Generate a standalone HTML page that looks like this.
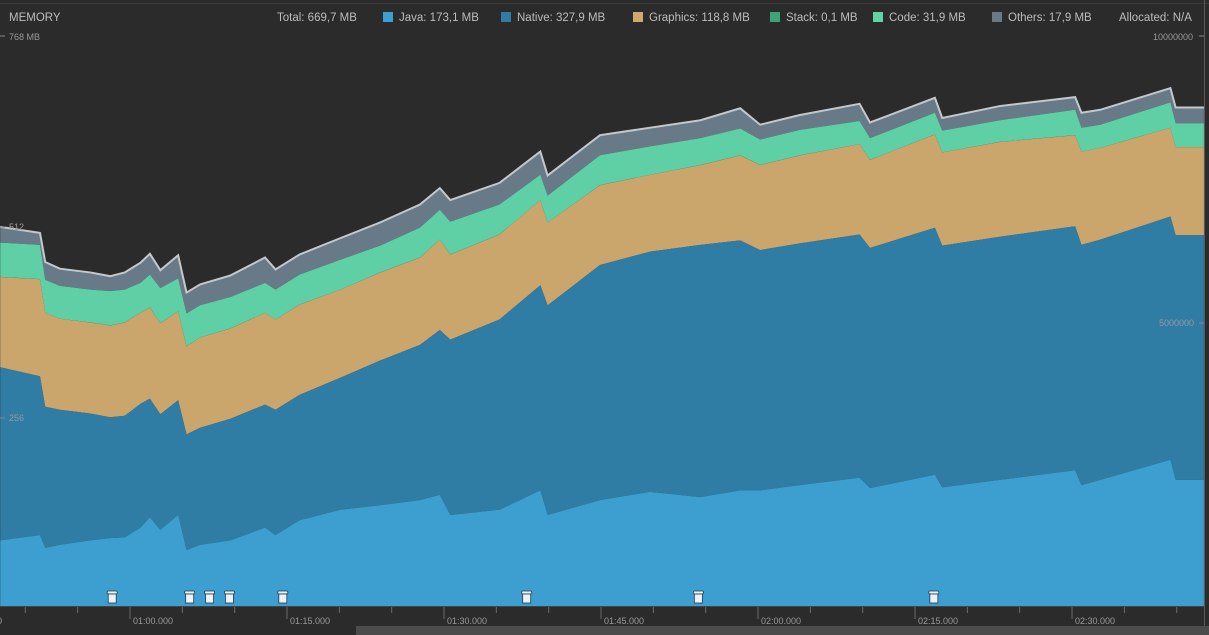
<!DOCTYPE html>
<html><head><meta charset="utf-8"><style>
html,body{margin:0;padding:0;background:#2b2b2b;}
body{width:1209px;height:635px;overflow:hidden;position:relative;font-family:"Liberation Sans",sans-serif;}
.t{position:absolute;color:#bcbcbc;font-size:11.5px;white-space:nowrap;}
.sw{display:inline-block;width:10px;height:10px;margin-right:6px;vertical-align:-1px;}
.ax{position:absolute;color:#9a9a9a;font-size:9px;}
</style></head><body>
<div style="position:absolute;left:0;top:3px;width:1209px;height:1px;background:#3c3c3c"></div>
<div class="t" style="left:9px;top:12px">MEMORY</div>
<div class="t" style="left:277px;top:12px">Total: 669,7 MB</div>
<div class="t" style="left:383px;top:12px"><span class="sw" style="background:#3d9fd0"></span>Java: 173,1 MB</div>
<div class="t" style="left:501px;top:12px"><span class="sw" style="background:#2f7ca5"></span>Native: 327,9 MB</div>
<div class="t" style="left:633px;top:12px"><span class="sw" style="background:#d0a86b"></span>Graphics: 118,8 MB</div>
<div class="t" style="left:770px;top:12px"><span class="sw" style="background:#3ea37a"></span>Stack: 0,1 MB</div>
<div class="t" style="left:873px;top:12px"><span class="sw" style="background:#5fd4a6"></span>Code: 31,9 MB</div>
<div class="t" style="left:992px;top:12px"><span class="sw" style="background:#687987"></span>Others: 17,9 MB</div>
<div class="t" style="left:1119px;top:12px">Allocated: N/A</div>

<svg id="chart" width="1209" height="635" style="position:absolute;left:0;top:0"></svg>

<div class="ax" style="left:9px;top:32px">768 MB</div>
<div class="ax" style="left:9px;top:222px">512</div>
<div class="ax" style="left:9px;top:413px">256</div>
<div class="ax" style="left:1153px;top:32px">10000000</div>
<div class="ax" style="left:1159px;top:318px">5000000</div>
<div style="position:absolute;left:356px;top:626px;width:853px;height:9px;background:#4b4b4b"></div>

<script>
const times=[47.6,51.4,51.9,53.3,56.2,58.1,59.5,61.0,61.9,62.9,64.6,65.4,66.7,69.6,72.9,73.9,76.2,80.1,83.9,87.7,89.6,90.6,95.3,99.2,99.9,104.9,109.7,114.5,118.3,120.2,124.0,129.7,130.7,136.9,137.6,143.1,150.3,150.9,152.7,159.4,159.9,162.6];
const java=[92,99,82,86,92,95,96,109,123,106,126,79,86,92,109,99,119,133,139,146,153,126,133,159,126,146,157,150,159,159,166,176,162,180,163,173,186,166,173,200,173,173];
const nativeMem=[232,213,189,181,170,162,163,166,159,155,154,155,157,163,165,168,168,177,194,208,221,235,255,275,281,315,322,338,335,322,324,326,322,331,324,326,327,322,322,326,328,328];
const graphics=[121,130,126,122,122,123,125,122,122,122,119,118,121,121,123,121,121,118,118,117,121,114,114,114,111,107,103,107,114,114,118,121,118,125,125,127,122,125,123,119,118,118];
const stack=[0.1,0.1,0.1,0.1,0.1,0.1,0.1,0.1,0.1,0.1,0.1,0.1,0.1,0.1,0.1,0.1,0.1,0.1,0.1,0.1,0.1,0.1,0.1,0.1,0.1,0.1,0.1,0.1,0.1,0.1,0.1,0.1,0.1,0.1,0.1,0.1,0.1,0.1,0.1,0.1,0.1,0.1];
const code=[46,46,44,44,44,46,44,40,44,47,44,44,43,42,40,40,40,40,36,40,40,44,40,34,36,40,38,36,36,34,34,31,29,29,29,29,34,32,31,34,32,32];
const others=[21,16,24,23,23,20,23,27,28,24,31,28,28,29,34,27,27,29,31,31,29,29,29,31,27,27,25,24,27,20,20,23,21,20,17,19,17,20,20,19,21,21];
const gcTimes=[58.3,65.7,67.6,69.5,74.6,97.9,114.3,136.8];
const tickLabels=["01:00.000","01:15.000","01:30.000","01:45.000","02:00.000","02:15.000","02:30.000"];
const tickTimes=[60,75,90,105,120,135,150];

const NS="http://www.w3.org/2000/svg";
const svg=document.getElementById('chart');
const X=t=>130+(t-60)*10.467;
const Y=mb=>609-mb*191/256;
function el(tag,attrs){const e=document.createElementNS(NS,tag);for(const k in attrs)e.setAttribute(k,attrs[k]);svg.appendChild(e);return e;}
const clip=el('clipPath',{id:'cp'});
const cr=document.createElementNS(NS,'rect');cr.setAttribute('x',0);cr.setAttribute('y',0);cr.setAttribute('width',1204);cr.setAttribute('height',606);clip.appendChild(cr);
const layers=[[java,'#3d9fd0','java-area'],[nativeMem,'#2f7ca5','native-area'],[graphics,'#caa66d','graphics-area'],[stack,'#3ea37a','stack-area'],[code,'#5fd0a5','code-area'],[others,'#687987','others-area']];
let base=times.map(()=>0);
const drawn=[];
layers.forEach(([vals,color,name])=>{
  const top=base.map((b,i)=>b+vals[i]);
  let d='M'+X(times[0])+','+Y(top[0]);
  for(let i=1;i<times.length;i++)d+='L'+X(times[i])+','+Y(top[i]);
  for(let i=times.length-1;i>=0;i--)d+='L'+X(times[i])+','+Y(base[i]);
  d+='Z';
  drawn.push([d,color,name]);
  base=top;
});
drawn.reverse();
drawn.forEach(([d,color,name])=>{
  const p=el('path',{d:d,fill:color,'clip-path':'url(#cp)'});
  
  
});
let ld='M'+X(times[0])+','+Y(base[0]);
for(let i=1;i<times.length;i++)ld+='L'+X(times[i])+','+Y(base[i]);
const tl=el('path',{d:ld,fill:'none',stroke:'#c4c8cc','stroke-width':2,'clip-path':'url(#cp)'});


gcTimes.forEach(t=>{
  const g=el('g',{transform:'translate('+X(t)+',597)'});
  
  
  const a=document.createElementNS(NS,'rect');a.setAttribute('x',-5);a.setAttribute('y',-6);a.setAttribute('width',10);a.setAttribute('height',3);a.setAttribute('rx',1);a.setAttribute('fill','#eef2f6');a.setAttribute('stroke','#1c3a4d');a.setAttribute('stroke-width','0.8');g.appendChild(a);
  const b=document.createElementNS(NS,'rect');b.setAttribute('x',-4);b.setAttribute('y',-3);b.setAttribute('width',8);b.setAttribute('height',9);b.setAttribute('fill','#eef2f6');b.setAttribute('stroke','#1c3a4d');b.setAttribute('stroke-width','0.8');g.appendChild(b);
});
const ax=el('rect',{x:0,y:606,width:1209,height:20,fill:'#2b2b2b'});


el('line',{x1:0,y1:606.5,x2:1204,y2:606.5,stroke:'#444','stroke-width':1});
for(let t=45;t<=165;t+=5){
  const x=X(t); if(x<0||x>1204)continue;
  const major=tickTimes.includes(t);
  el('line',{x1:x,y1:607,x2:x,y2:major?619:613,stroke:'#6a6a6a','stroke-width':1});
}
tickLabels.forEach((lab,i)=>{
  const tx=el('text',{x:X(tickTimes[i])+3,y:624,fill:'#9a9a9a','font-size':9,'font-family':'Liberation Sans, sans-serif'});
  tx.textContent=lab;
  
  
});
const l0=el('text',{x:-3,y:624,fill:'#9a9a9a','font-size':9});l0.textContent='0';
el('line',{x1:1204.5,y1:0,x2:1204.5,y2:626,stroke:'#5a5a5a','stroke-width':1});
[36,227,418].forEach(y=>el('line',{x1:0,y1:y,x2:5,y2:y,stroke:'#888','stroke-width':1}));
[36,323].forEach(y=>el('line',{x1:1199,y1:y,x2:1204,y2:y,stroke:'#888','stroke-width':1}));
</script>
</body></html>
